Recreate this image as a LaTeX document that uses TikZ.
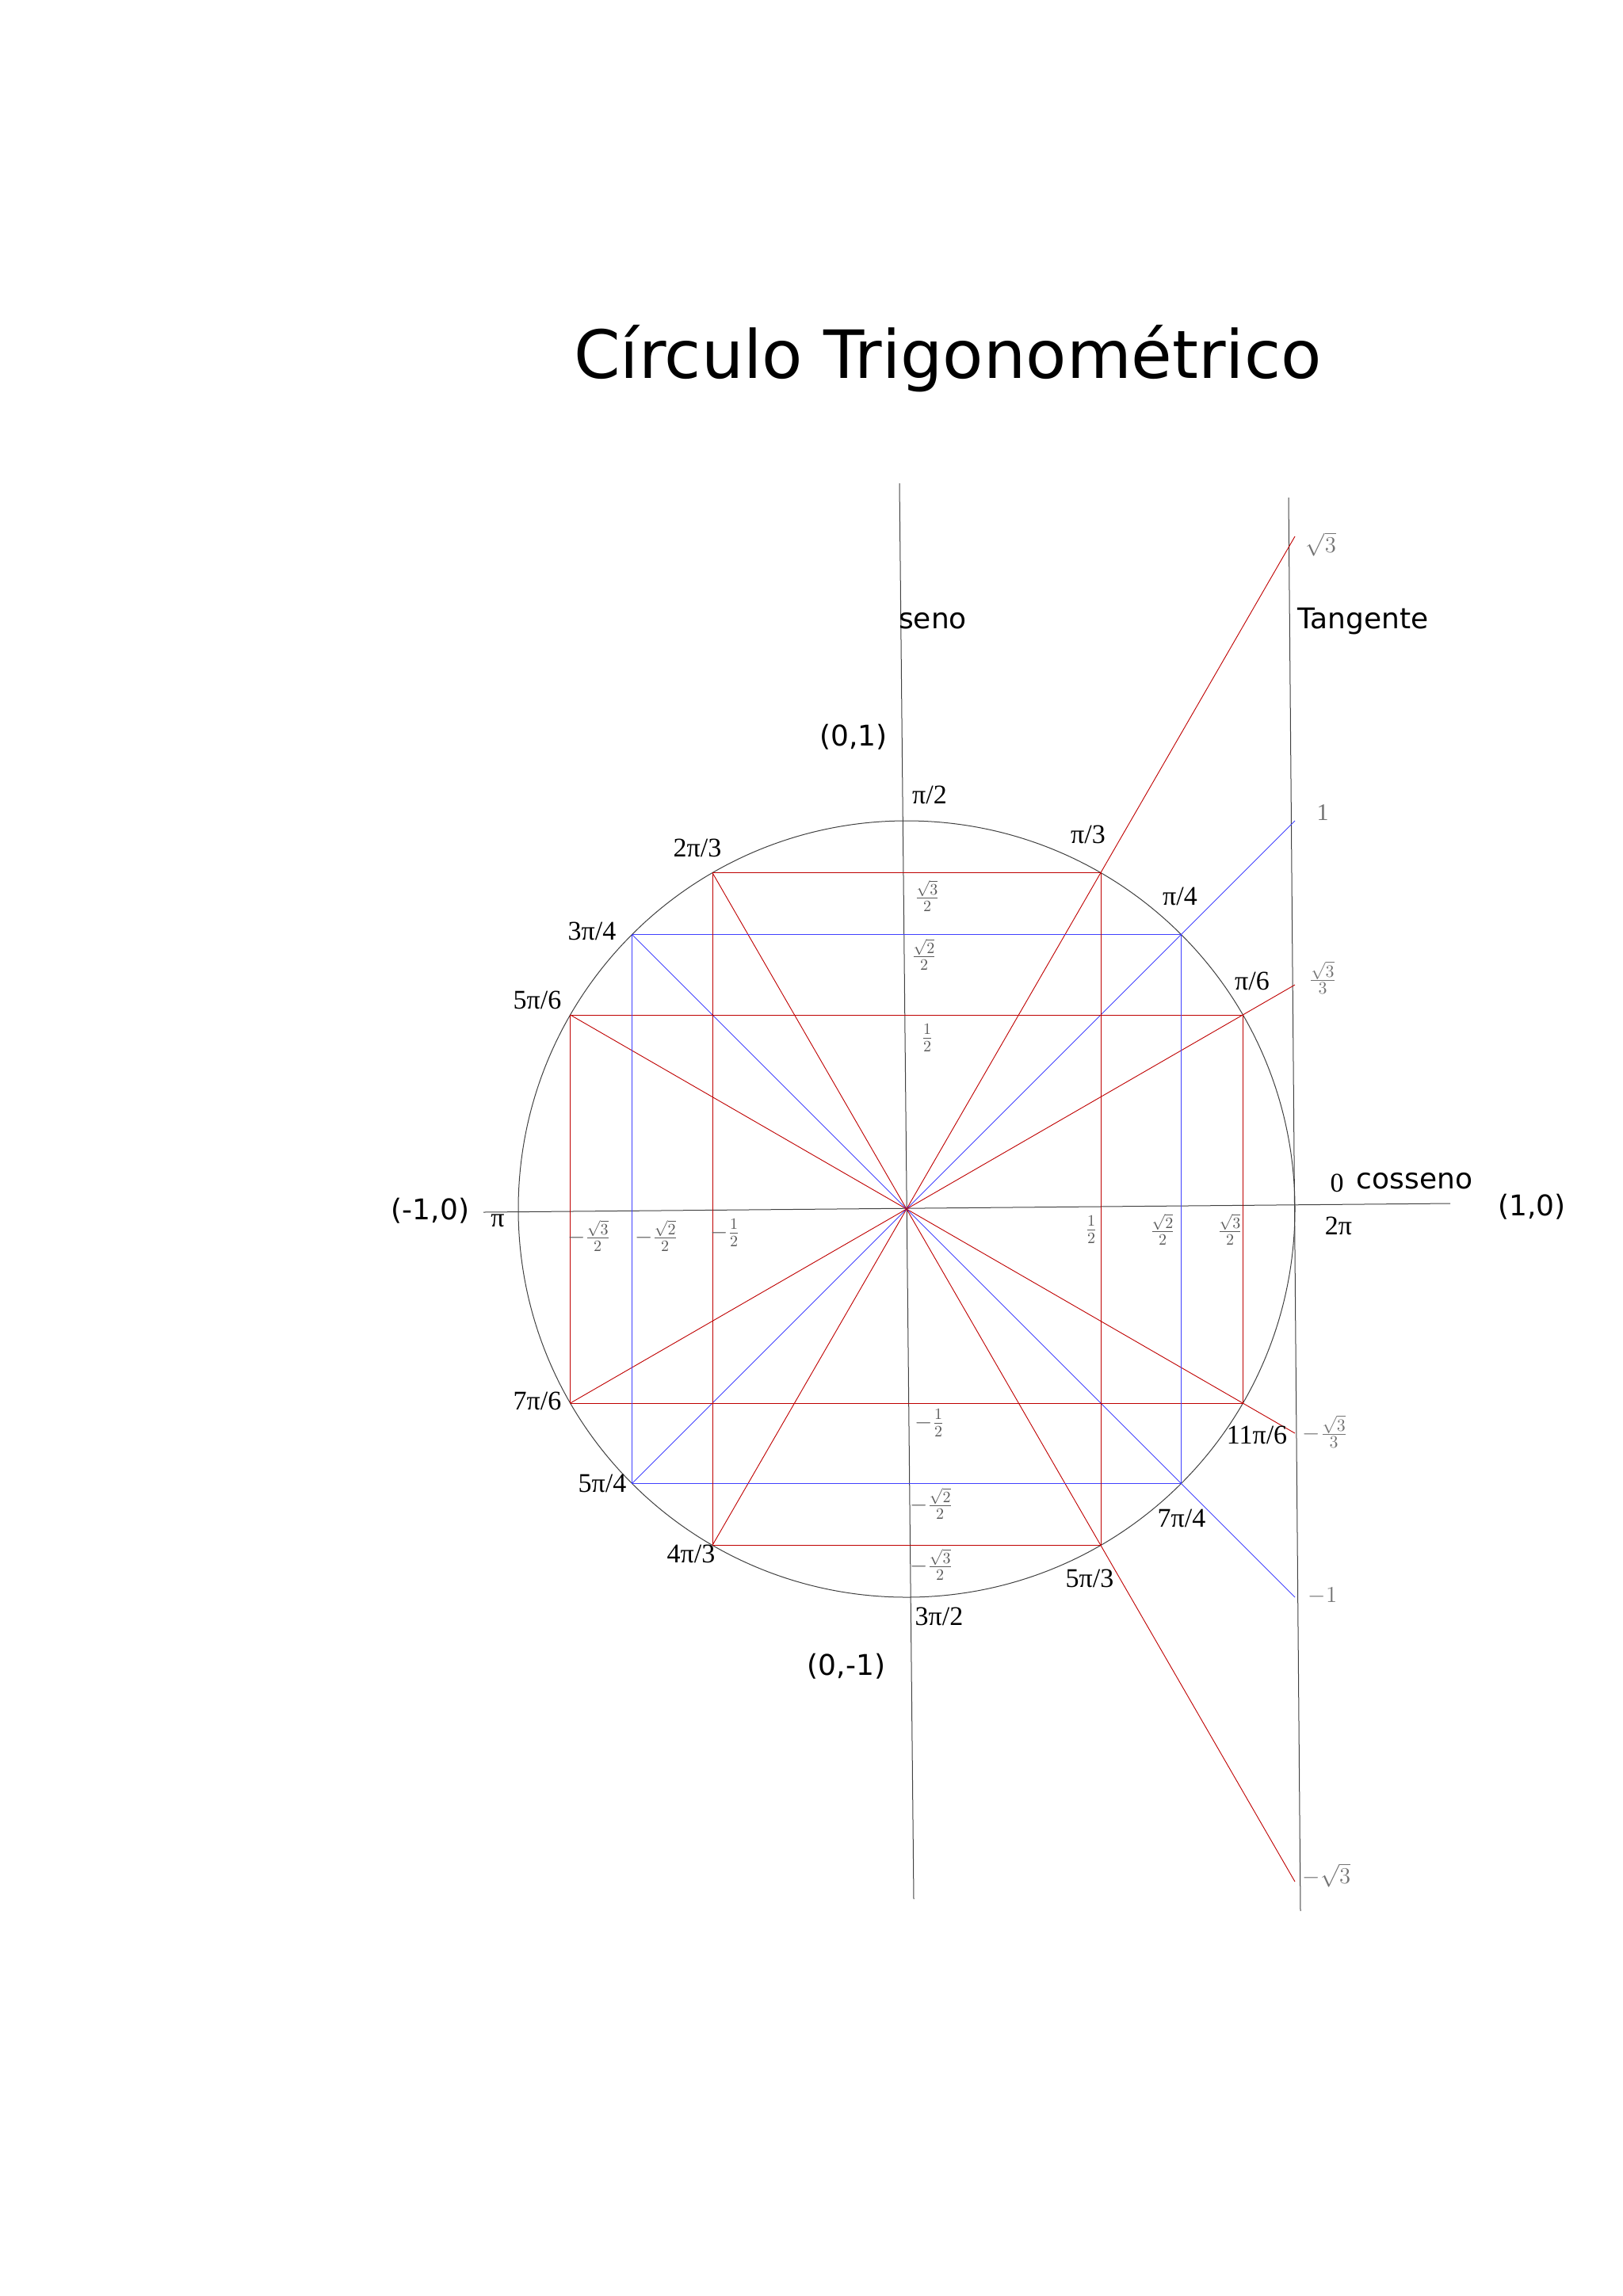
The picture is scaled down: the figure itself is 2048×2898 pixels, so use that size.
\documentclass[tikz,border=0pt]{standalone}
\usepackage{fontspec}
\setmainfont{Liberation Serif}
\newfontfamily\labsans{DejaVu Sans}
\usetikzlibrary{calc}
\begin{document}
\begin{tikzpicture}[x=0.5pt,y=-0.5pt,
  axis/.style={draw=black!75,line width=0.5pt},
  rline/.style={draw=red!75!black,line width=0.45pt},
  bline/.style={draw=blue!75,line width=0.45pt},
  slab/.style={font=\labsans\fontsize{18}{20}\selectfont},
  ang/.style={font=\fontsize{17}{19}\selectfont},
  glab/.style={text=black!55,font=\fontsize{15}{17}\selectfont},
  flab/.style={text=black!65,font=\fontsize{14}{16}\selectfont}]
\useasboundingbox (0,0) rectangle (2048,2898);
\def\R{490}
\coordinate (O) at (1144,1526);
% axes
\coordinate (st) at (1135,610); \coordinate (sb) at (1153,2397);
\coordinate (cl) at (610,1530); \coordinate (cr) at (1830,1519);
\coordinate (tt) at (1626,628); \coordinate (tb) at (1641,2412);
\draw[axis] (st) -- (sb);
\draw[axis] (cl) -- (cr);
\draw[axis] (tt) -- (tb);
\draw[black!75,line width=0.5pt] (O) circle[radius=\R];
% circle points
\foreach \a/\n in {30/p30,45/p45,60/p60,120/p120,135/p135,150/p150,210/p210,225/p225,240/p240,300/p300,315/p315,330/p330}
  \coordinate (\n) at ($(O)+({\R*cos(\a)},{-\R*sin(\a)})$);
% tangent points
\coordinate (t1) at (1634,677); \coordinate (t2) at (1634,1036); \coordinate (t3) at (1634,1243);
\coordinate (t4) at (1634,1809); \coordinate (t5) at (1634,2016); \coordinate (t6) at (1634,2375);
% rays
\draw[rline] (p240) -- (t1);
\draw[bline] (p225) -- (t2);
\draw[rline] (p210) -- (t3);
\draw[rline] (p150) -- (t4);
\draw[bline] (p135) -- (t5);
\draw[rline] (p120) -- (t6);
% horizontal
\draw[rline] (p120) -- (p60); \draw[bline] (p135) -- (p45); \draw[rline] (p150) -- (p30);
\draw[rline] (p210) -- (p330); \draw[bline] (p225) -- (p315); \draw[rline] (p240) -- (p300);
% vertical
\draw[rline] (p60) -- (p300); \draw[bline] (p45) -- (p315); \draw[rline] (p30) -- (p330);
\draw[rline] (p120) -- (p240); \draw[bline] (p135) -- (p225); \draw[rline] (p150) -- (p210);
% title
\node[font=\labsans\fontsize{42}{48}\selectfont] (title) at (1196,453) {Círculo Trigonométrico};
% axis labels
\node[slab] (seno) at (1177,784) {seno};
\node[slab] (tang) at (1720,784) {Tangente};
\node[slab] (p01) at (1077,930) {(0,1)};
\node[slab] (m10) at (543,1528) {(-1,0)};
\node[slab] (p10) at (1933,1523) {(1,0)};
\node[slab] (m01) at (1068,2103) {(0,-1)};
\node[slab] (cos) at (1785,1491) {cosseno};
% angle labels
\node[ang] at (1173,1003) {π/2};
\node[ang] at (1373,1053) {π/3};
\node[ang] at (1489,1131) {π/4};
\node[ang] at (1580,1238) {π/6};
\node[ang] at (1687,1493) {0};
\node[ang] at (1689,1547) {2π};
\node[ang] at (880,1070) {2π/3};
\node[ang] at (747,1175) {3π/4};
\node[ang] at (678,1262) {5π/6};
\node[ang] at (628,1541) {π};
\node[ang] at (678,1768) {7π/6};
\node[ang] at (760,1872) {5π/4};
\node[ang] at (872,1961) {4π/3};
\node[ang] at (1185,2040) {3π/2};
\node[ang] at (1375,1992) {5π/3};
\node[ang] at (1491,1916) {7π/4};
\node[ang] at (1586,1811) {11π/6};
% tangent values
\node[glab] at (1667,687) {$\sqrt{3}$};
\node[glab] at (1669,1026) {1};
\node[glab] at (1669,1234) {$\frac{\sqrt{3}}{3}$};
\node[glab] at (1672,1807) {$-\frac{\sqrt{3}}{3}$};
\node[glab] at (1669,2014) {$-1$};
\node[glab] at (1674,2367) {$-\sqrt{3}$};
% sine values
\node[flab] at (1170,1131) {$\frac{\sqrt{3}}{2}$};
\node[flab] at (1166,1205) {$\frac{\sqrt{2}}{2}$};
\node[flab] at (1170,1310) {$\frac{1}{2}$};
\node[flab] at (1173,1796) {$-\frac{1}{2}$};
\node[flab] at (1175,1898) {$-\frac{\sqrt{2}}{2}$};
\node[flab] at (1175,1975) {$-\frac{\sqrt{3}}{2}$};
% cosine values
\node[flab] at (743,1560) {$-\frac{\sqrt{3}}{2}$};
\node[flab] at (828,1560) {$-\frac{\sqrt{2}}{2}$};
\node[flab] at (915,1556) {$-\frac{1}{2}$};
\node[flab] at (1377,1552) {$\frac{1}{2}$};
\node[flab] at (1467,1552) {$\frac{\sqrt{2}}{2}$};
\node[flab] at (1552,1552) {$\frac{\sqrt{3}}{2}$};
\end{tikzpicture}
\end{document}
